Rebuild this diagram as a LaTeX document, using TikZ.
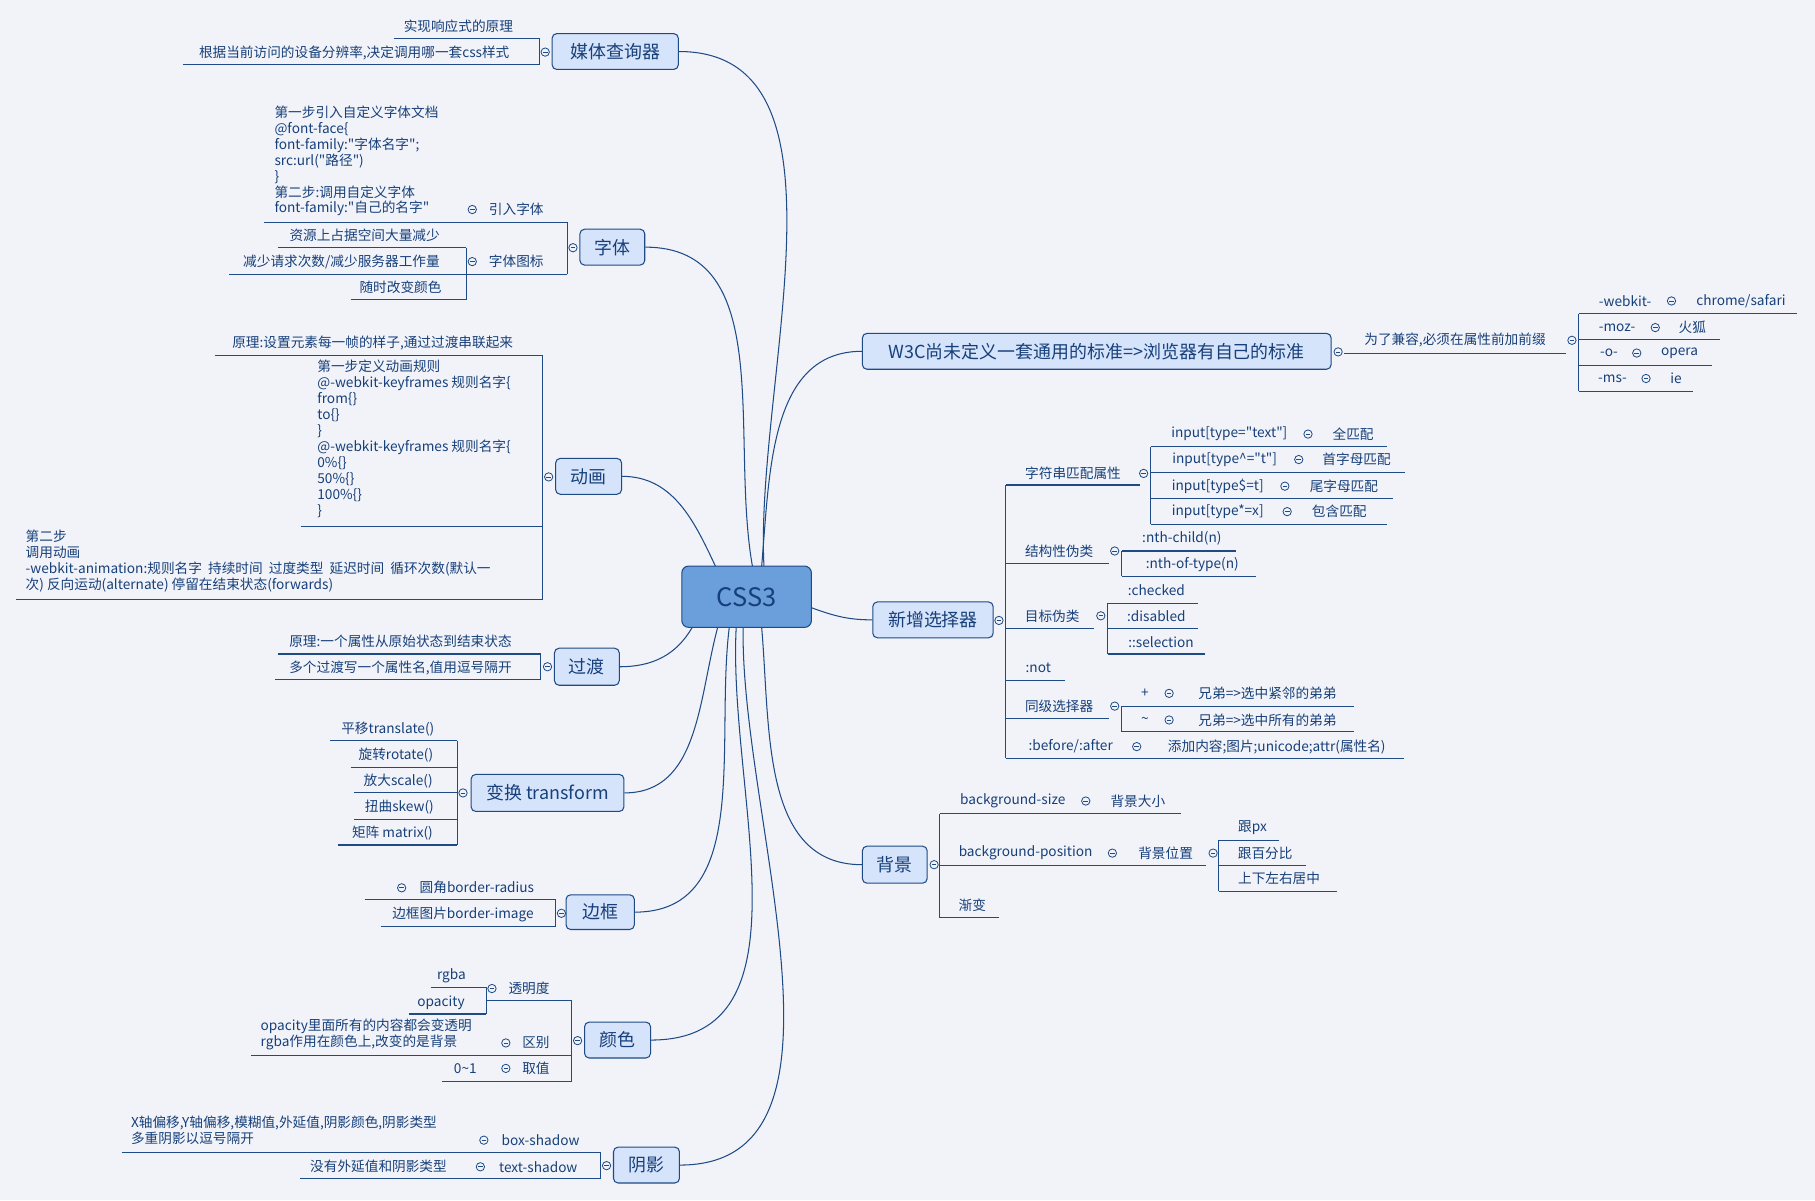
\documentclass[tikz,border=0pt]{standalone}
\usepackage{fontspec}
\setmainfont{Noto Sans CJK SC}[Ligatures=TeXOff]
\definecolor{bg}{HTML}{F1F3F9}
\definecolor{ln}{HTML}{1E4A85}
\definecolor{nf}{HTML}{D5E3FB}
\definecolor{cf}{HTML}{6A9FDC}
\definecolor{tx}{HTML}{17407A}
\tikzset{
  lnst/.style={draw=ln,line width=0.9pt},
  lf/.style={inner sep=0pt,text=tx,font=\fontsize{11.8}{13.8}\selectfont},
  blk/.style={lf,align=left,anchor=north west},
  mn/.style={draw=ln,line width=0.9pt,fill=nf,rounded corners=4pt,text=tx,font=\fontsize{15.5}{18}\selectfont,inner sep=0pt},
  conn/.style={draw=ln,line width=0.9pt}
}
\newcommand\Ul[3]{\draw[lnst] (#1,#3) -- (#2,#3);}
\newcommand\Br[3]{\draw[lnst] (#1,#2) -- (#1,#3);}
\newcommand\Pc[2]{\draw[draw=ln,line width=0.7pt,fill=bg] (#1,#2) circle (3.6pt);\draw[ln,line width=0.6pt] (#1-2,#2) -- (#1+2,#2);}
\newcommand\Tx[3]{\node[lf] (t#1x#2) at (#1,#2) {#3};}
\newcommand\Mn[6]{\node[mn,minimum width=#4-#2,minimum height=#5-#3] (#1) at ({(#2+#4)/2},{(#3+#5)/2}) {#6};}
\begin{document}
\begin{tikzpicture}[x=1pt,y=-1pt]
\fill[bg] (0,0) rectangle (1568,1037);
\useasboundingbox (0,0) rectangle (1568,1037);
% central
\node[draw=ln,line width=0.9pt,fill=cf,rounded corners=6pt,minimum width=112,minimum height=53,text=tx,font=\fontsize{22}{24}\selectfont,inner sep=0pt] (css) at (645,515.5) {CSS3};
% main nodes
\Mn{m1}{477}{29}{586}{60}{媒体查询器}
\Mn{m2}{501}{198}{557}{229}{字体}
\Mn{m3}{480}{396}{537}{427}{动画}
\Mn{m4}{479}{560}{535}{592}{过渡}
\Mn{m5}{407}{669}{539}{701}{变换 transform}
\Mn{m6}{489}{773}{548}{803}{边框}
\Mn{m7}{505}{883}{562}{914}{颜色}
\Mn{m8}{530}{991}{587}{1022}{阴影}
\Mn{m9}{745}{288}{1150}{319}{W3C尚未定义一套通用的标准=>浏览器有自己的标准}
\Mn{m10}{754}{520}{858}{551}{新增选择器}
\Mn{m11}{745}{731}{801}{763}{背景}
% connectors
\coordinate (c1) at (660,489); \coordinate (c2) at (650,489); \coordinate (c3) at (618,489);
\coordinate (c4) at (598,542); \coordinate (c5) at (620,542); \coordinate (c6) at (630,542);
\coordinate (c7) at (636,542); \coordinate (c8) at (642,542);
\coordinate (c9) at (658,489); \coordinate (c10) at (701,525); \coordinate (c11) at (658,542);
\draw[conn] (m1.east) to[out=0,in=93,looseness=0.9] (c1);
\draw[conn] (m2.east) to[out=0,in=100] (c2);
\draw[conn] (m3.east) to[out=0,in=115] (c3);
\draw[conn] (m4.east) to[out=0,in=-120] (c4);
\draw[conn] (m5.east) to[out=0,in=-105] (c5);
\draw[conn] (m6.east) to[out=0,in=-97] (c6);
\draw[conn] (m7.east) to[out=0,in=-93] (c7);
\draw[conn] (m8.east) to[out=0,in=-91,looseness=0.9] (c8);
\draw[conn] (m9.west) to[out=180,in=85] (c9);
\draw[conn] (c10) to[out=-20,in=180] (m10.west);
\draw[conn] (m11.west) to[out=180,in=-85] (c11);
% ports
\Pc{471}{45}\Pc{495}{214}\Pc{474}{412}\Pc{473}{576}\Pc{400}{685}\Pc{485}{789}\Pc{499}{899}\Pc{524}{1007}
\Pc{1156}{304}\Pc{863}{536}\Pc{807}{747}
% ---- 媒体查询器
\Br{466}{33}{56}\Ul{340}{466}{33}\Ul{158}{466}{56}
\Tx{396}{23}{实现响应式的原理}
\Tx{306}{46}{根据当前访问的设备分辨率,决定调用哪一套css样式}
% ---- 字体
\Br{490}{192}{237}\Ul{228}{490}{192}\Ul{198}{490}{237}
\Br{403}{214}{259}\Ul{240}{403}{214}\Ul{303}{403}{259}
\node[blk] (fblk) at (237,91) {第一步引入自定义字体文档\\@font-face\{\\font-family:"字体名字";\\src:url("路径")\\\}\\第二步:调用自定义字体\\font-family:"自己的名字"};
\Pc{408}{181}\Tx{446}{181}{引入字体}
\Pc{408}{226}\Tx{446}{226}{字体图标}
\Tx{315}{203}{资源上占据空间大量减少}
\Tx{295}{226}{减少请求次数/减少服务器工作量}
\Tx{346}{248}{随时改变颜色}
% ---- 动画
\Br{469}{307}{518}\Ul{186}{469}{307}\Ul{260}{469}{455}\Ul{14}{469}{518}
\Tx{322}{296}{原理:设置元素每一帧的样子,通过过渡串联起来}
\node[blk] (ablk) at (274,311) {第一步定义动画规则\\@-webkit-keyframes 规则名字\{\\from\{\}\\to\{\}\\\}\\@-webkit-keyframes 规则名字\{\\0\%\{\}\\50\%\{\}\\100\%\{\}\\\}};
\node[blk] (bblk) at (22,458) {第二步\\调用动画\\-webkit-animation:规则名字\ \ 持续时间\ \ 过度类型\ \ 延迟时间\ \ 循环次数(默认一\\次)\ 反向运动(alternate) 停留在结束状态(forwards)};
% ---- 过渡
\Br{467}{565}{587}\Ul{240}{467}{565}\Ul{238}{467}{587}
\Tx{346}{554}{原理:一个属性从原始状态到结束状态}
\Tx{346}{577}{多个过渡写一个属性名,值用逗号隔开}
% ---- 变换
\Br{395}{640}{730}
\Ul{285}{395}{640}\Ul{303}{395}{663}\Ul{306}{395}{685}\Ul{306}{395}{708}\Ul{292}{395}{730}
\Tx{335}{630}{平移translate()}\Tx{342}{652}{旋转rotate()}\Tx{344}{675}{放大scale()}
\Tx{345}{697}{扭曲skew()}\Tx{339}{720}{矩阵 matrix()}
% ---- 边框
\Br{480}{777}{800}\Ul{315}{480}{777}\Ul{329}{480}{800}
\Pc{347}{767}\Tx{412}{767}{圆角border-radius}
\Tx{400}{790}{边框图片border-image}
% ---- 颜色
\Br{494}{864}{934}\Ul{420}{494}{864}\Ul{217}{494}{912}\Ul{382}{494}{934}
\Br{420}{853}{876}\Ul{372}{420}{853}\Ul{353}{420}{876}
\Pc{425}{854}\Tx{457}{854}{透明度}
\Tx{390}{843}{rgba}\Tx{381}{866}{opacity}
\Pc{437}{901}\Tx{463}{901}{区别}
\node[blk] (cblk) at (225,880) {opacity里面所有的内容都会变透明\\rgba作用在颜色上,改变的是背景};
\Pc{437}{923}\Tx{463}{923}{取值}\Tx{402}{923}{0\textasciitilde 1}
% ---- 阴影
\Br{519}{996}{1018}\Ul{105}{519}{996}\Ul{259}{519}{1018}
\node[blk] (sblk) at (113,964) {X轴偏移,Y轴偏移,模糊值,外延值,阴影颜色,阴影类型\\多重阴影以逗号隔开};
\Pc{418}{985}\Tx{467}{985}{box-shadow}
\Pc{415}{1008}\Tx{465}{1008}{text-shadow}
\Tx{327}{1008}{没有外延值和阴影类型}
% ---- W3C
\Ul{1161}{1353}{305}\Tx{1257}{294}{为了兼容,必须在属性前加前缀}
\Pc{1358}{294}
\Br{1364}{271}{338}
\Ul{1364}{1552}{271}\Ul{1364}{1486}{293}\Ul{1364}{1479}{316}\Ul{1364}{1463}{338}
\Tx{1404}{260}{-webkit-}\Pc{1444}{260}\Tx{1504}{260}{chrome/safari}
\Tx{1397}{283}{-moz-}\Pc{1430}{283}\Tx{1462}{283}{火狐}
\Tx{1390}{305}{-o-}\Pc{1414}{305}\Tx{1451}{305}{opera}
\Tx{1393}{327}{-ms-}\Pc{1422}{327}\Tx{1448}{327}{ie}
% ---- 新增选择器
\Br{869}{419}{655}
\Ul{869}{985}{419}\Tx{927}{409}{字符串匹配属性}\Pc{988}{409}
\Br{994}{386}{453}
\Ul{994}{1198}{386}\Ul{994}{1214}{408}\Ul{994}{1203}{431}\Ul{994}{1198}{453}
\Tx{1062}{375}{input[type="text"]}\Pc{1130}{375}\Tx{1169}{375}{全匹配}
\Tx{1058}{397}{input[type\textasciicircum="t"]}\Pc{1122}{397}\Tx{1172}{397}{首字母匹配}
\Tx{1052}{420}{input[type\$=t]}\Pc{1110}{420}\Tx{1161}{420}{尾字母匹配}
\Tx{1052}{442}{input[type*=x]}\Pc{1112}{442}\Tx{1157}{442}{包含匹配}
\Ul{869}{958}{487}\Tx{915}{476}{结构性伪类}\Pc{963}{476}
\Br{969}{476}{498}\Ul{969}{1068}{476}\Ul{969}{1085}{498}
\Tx{1021}{465}{:nth-child(n)}\Tx{1030}{488}{:nth-of-type(n)}
\Ul{869}{945}{543}\Tx{909}{532}{目标伪类}\Pc{951}{532}
\Br{957}{521}{565}\Ul{957}{1035}{521}\Ul{957}{1035}{543}\Ul{957}{1041}{565}
\Tx{999}{510}{:checked}\Tx{999}{532}{:disabled}\Tx{1003}{555}{::selection}
\Ul{869}{920}{588}\Tx{897}{577}{:not}
\Ul{869}{958}{621}\Tx{915}{610}{同级选择器}\Pc{963}{610}
\Br{969}{610}{632}\Ul{969}{1170}{610}\Ul{969}{1170}{632}
\Tx{989}{599}{+}\Pc{1010}{599}\Tx{1095}{599}{兄弟=>选中紧邻的弟弟}
\Tx{989}{622}{\textasciitilde}\Pc{1010}{622}\Tx{1095}{622}{兄弟=>选中所有的弟弟}
\Ul{869}{1213}{655}\Tx{925}{645}{:before/:after}\Pc{982}{645}\Tx{1103}{645}{添加内容;图片;unicode;attr(属性名)}
% ---- 背景
\Br{812}{703}{793}
\Ul{812}{1020}{703}\Tx{875}{692}{background-size}\Pc{938}{692}\Tx{983}{692}{背景大小}
\Ul{812}{1042}{748}\Tx{886}{737}{background-position}\Pc{961}{737}\Tx{1007}{737}{背景位置}\Pc{1048}{737}
\Br{1053}{726}{770}\Ul{1053}{1105}{726}\Ul{1053}{1128}{748}\Ul{1053}{1155}{770}
\Tx{1082}{715}{跟px}\Tx{1093}{737}{跟百分比}\Tx{1105}{759}{上下左右居中}
\Ul{812}{863}{793}\Tx{840}{782}{渐变}
\end{tikzpicture}
\end{document}
